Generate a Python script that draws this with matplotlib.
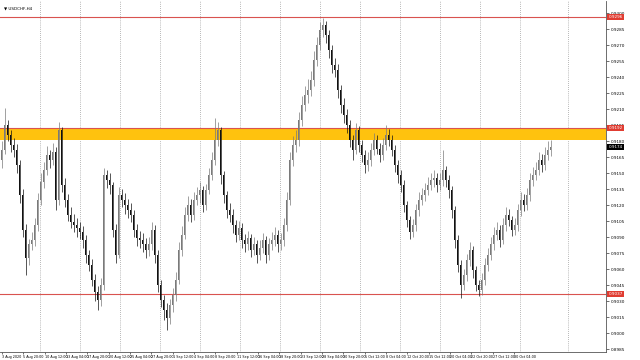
import matplotlib
matplotlib.use("Agg")
import matplotlib.pyplot as plt

# USDCHF H4 candles (closes, highs, lows)
first_open = 0.9162
closes = [
    0.9172, 0.9195, 0.9186, 0.9176, 0.9172, 0.9158, 0.9129, 0.9097, 0.9070, 0.9083,
    0.9087, 0.9101, 0.9125, 0.9142, 0.9153, 0.9167, 0.9162, 0.9170, 0.9125, 0.9190,
    0.9139, 0.9125, 0.9111, 0.9104, 0.9101, 0.9098, 0.9095, 0.9087, 0.9073, 0.9064,
    0.9050, 0.9038, 0.9031, 0.9045, 0.9148, 0.9143, 0.9139, 0.9097, 0.9073, 0.9129,
    0.9125, 0.9120, 0.9115, 0.9111, 0.9097, 0.9089, 0.9087, 0.9083, 0.9078, 0.9083,
    0.9097, 0.9073, 0.9045, 0.9031, 0.9022, 0.9014, 0.9026, 0.9036, 0.9050, 0.9078,
    0.9092, 0.9111, 0.9120, 0.9111, 0.9125, 0.9129, 0.9134, 0.9120, 0.9134, 0.9148,
    0.9162, 0.9181, 0.9190, 0.9148, 0.9129, 0.9115, 0.9111, 0.9101, 0.9092, 0.9098,
    0.9087, 0.9083, 0.9089, 0.9078, 0.9083, 0.9073, 0.9080, 0.9087, 0.9073, 0.9083,
    0.9087, 0.9092, 0.9083, 0.9087, 0.9101, 0.9125, 0.9162, 0.9176, 0.9181, 0.9200,
    0.9214, 0.9223, 0.9228, 0.9237, 0.9256, 0.9270, 0.9284, 0.9289, 0.9279, 0.9265,
    0.9251, 0.9247, 0.9228, 0.9214, 0.9204, 0.9195, 0.9181, 0.9172, 0.9190, 0.9176,
    0.9167, 0.9158, 0.9162, 0.9172, 0.9181, 0.9173, 0.9167, 0.9176, 0.9186, 0.9181,
    0.9172, 0.9158, 0.9148, 0.9139, 0.9120, 0.9106, 0.9095, 0.9101, 0.9115, 0.9125,
    0.9129, 0.9134, 0.9139, 0.9143, 0.9145, 0.9139, 0.9143, 0.9153, 0.9143, 0.9134,
    0.9115, 0.9087, 0.9064, 0.9045, 0.9054, 0.9068, 0.9078, 0.9059, 0.9045, 0.9040,
    0.9050, 0.9064, 0.9073, 0.9083, 0.9092, 0.9097, 0.9087, 0.9101, 0.9111, 0.9106,
    0.9097, 0.9101, 0.9115, 0.9125, 0.9120, 0.9129, 0.9143, 0.9148, 0.9153, 0.9162,
    0.9158, 0.9167, 0.9172, 0.9174,
]
highs = [
    0.9180, 0.9211, 0.9200, 0.9190, 0.9183, 0.9177, 0.9162, 0.9135, 0.9102, 0.9088,
    0.9095, 0.9108, 0.9131, 0.9150, 0.9160, 0.9175, 0.9172, 0.9178, 0.9174, 0.9198,
    0.9193, 0.9145, 0.9130, 0.9118, 0.9112, 0.9108, 0.9104, 0.9100, 0.9092, 0.9078,
    0.9069, 0.9055, 0.9044, 0.9052, 0.9155, 0.9153, 0.9150, 0.9142, 0.9102, 0.9137,
    0.9135, 0.9131, 0.9126, 0.9122, 0.9115, 0.9102, 0.9096, 0.9094, 0.9089, 0.9090,
    0.9104, 0.9101, 0.9078, 0.9050, 0.9036, 0.9028, 0.9032, 0.9042, 0.9057, 0.9085,
    0.9100, 0.9118, 0.9128, 0.9126, 0.9132, 0.9137, 0.9142, 0.9138, 0.9140, 0.9155,
    0.9170, 0.9202, 0.9198, 0.9193, 0.9152, 0.9133, 0.9122, 0.9116, 0.9106, 0.9105,
    0.9103, 0.9093, 0.9096, 0.9093, 0.9090, 0.9087, 0.9087, 0.9094, 0.9091, 0.9089,
    0.9095, 0.9099, 0.9097, 0.9094, 0.9108, 0.9132, 0.9170, 0.9185, 0.9190, 0.9207,
    0.9222, 0.9232, 0.9238, 0.9246, 0.9264, 0.9278, 0.9292, 0.9295, 0.9293, 0.9284,
    0.9270, 0.9258, 0.9252, 0.9233, 0.9220, 0.9210, 0.9200, 0.9186, 0.9197, 0.9194,
    0.9181, 0.9172, 0.9170, 0.9178, 0.9188, 0.9186, 0.9178, 0.9183, 0.9195, 0.9191,
    0.9186, 0.9176, 0.9162, 0.9153, 0.9143, 0.9124, 0.9110, 0.9107, 0.9121, 0.9132,
    0.9136, 0.9141, 0.9146, 0.9150, 0.9153, 0.9150, 0.9150, 0.9172, 0.9157, 0.9148,
    0.9138, 0.9119, 0.9092, 0.9068, 0.9060, 0.9074, 0.9085, 0.9082, 0.9063, 0.9050,
    0.9056, 0.9070, 0.9080, 0.9090, 0.9099, 0.9104, 0.9101, 0.9108, 0.9118, 0.9116,
    0.9110, 0.9108, 0.9121, 0.9132, 0.9130, 0.9136, 0.9150, 0.9156, 0.9160, 0.9170,
    0.9168, 0.9174, 0.9180, 0.9181,
]
lows = [
    0.9155, 0.9168, 0.9180, 0.9170, 0.9165, 0.9150, 0.9122, 0.9090, 0.9054, 0.9064,
    0.9078, 0.9082, 0.9096, 0.9120, 0.9136, 0.9148, 0.9155, 0.9158, 0.9115, 0.9120,
    0.9132, 0.9118, 0.9105, 0.9098, 0.9095, 0.9090, 0.9088, 0.9080, 0.9066, 0.9058,
    0.9044, 0.9030, 0.9022, 0.9025, 0.9040, 0.9136, 0.9130, 0.9090, 0.9066, 0.9070,
    0.9118, 0.9112, 0.9108, 0.9104, 0.9090, 0.9082, 0.9080, 0.9076, 0.9070, 0.9072,
    0.9078, 0.9066, 0.9038, 0.9024, 0.9012, 0.9003, 0.9008, 0.9020, 0.9030, 0.9046,
    0.9072, 0.9088, 0.9105, 0.9104, 0.9106, 0.9120, 0.9122, 0.9113, 0.9115, 0.9130,
    0.9143, 0.9158, 0.9175, 0.9140, 0.9122, 0.9108, 0.9104, 0.9094, 0.9085, 0.9087,
    0.9080, 0.9076, 0.9078, 0.9071, 0.9073, 0.9066, 0.9068, 0.9075, 0.9066, 0.9068,
    0.9078, 0.9082, 0.9076, 0.9078, 0.9082, 0.9096, 0.9120, 0.9157, 0.9170, 0.9175,
    0.9194, 0.9208, 0.9216, 0.9222, 0.9232, 0.9250, 0.9265, 0.9278, 0.9272, 0.9258,
    0.9244, 0.9240, 0.9220, 0.9206, 0.9197, 0.9188, 0.9174, 0.9162, 0.9168, 0.9170,
    0.9160, 0.9150, 0.9152, 0.9157, 0.9167, 0.9168, 0.9160, 0.9162, 0.9172, 0.9175,
    0.9166, 0.9151, 0.9141, 0.9132, 0.9113, 0.9099, 0.9088, 0.9090, 0.9096, 0.9110,
    0.9120, 0.9124, 0.9129, 0.9134, 0.9137, 0.9132, 0.9134, 0.9138, 0.9137, 0.9127,
    0.9108, 0.9080, 0.9057, 0.9033, 0.9040, 0.9049, 0.9063, 0.9052, 0.9039, 0.9035,
    0.9036, 0.9045, 0.9058, 0.9068, 0.9078, 0.9087, 0.9081, 0.9083, 0.9096, 0.9100,
    0.9091, 0.9092, 0.9096, 0.9110, 0.9114, 0.9115, 0.9124, 0.9138, 0.9143, 0.9148,
    0.9151, 0.9153, 0.9162, 0.9166,
]

resistance = 0.9296
zone_top, zone_bottom = 0.9192, 0.9181
support = 0.9037
last_price = 0.9174

price_ticks = [0.9300, 0.9285, 0.9270, 0.9255, 0.9240, 0.9225, 0.9210, 0.9195,
               0.9180, 0.9165, 0.9150, 0.9135, 0.9120, 0.9105, 0.9090, 0.9075,
               0.9060, 0.9045, 0.9030, 0.9015, 0.9000, 0.8985]
date_labels = ["3 Aug 2020", "5 Aug 20:00", "10 Aug 12:00", "13 Aug 04:00",
               "17 Aug 20:00", "20 Aug 12:00", "25 Aug 04:00", "27 Aug 20:00",
               "1 Sep 12:00", "4 Sep 04:00", "8 Sep 20:00", "11 Sep 12:00",
               "16 Sep 04:00", "18 Sep 20:00", "23 Sep 12:00", "28 Sep 04:00",
               "30 Sep 20:00", "5 Oct 12:00", "8 Oct 04:00", "12 Oct 20:00",
               "15 Oct 12:00", "20 Oct 04:00", "22 Oct 20:00", "27 Oct 12:00",
               "30 Oct 04:00"]

narrow = ["Liberation Sans Narrow", "DejaVu Sans"]

fig = plt.figure(figsize=(6.4, 3.6), dpi=100)
ax = fig.add_axes([0, 8 / 360, 606 / 640, 351 / 360])

opens = [first_open] + closes[:-1]
for i in range(len(closes)):
    o, c = opens[i], closes[i]
    col = "#7a7a7a" if c >= o else "#111111"
    ax.vlines(i, lows[i], highs[i], color=col, lw=0.5, zorder=3)
    ax.bar(i, max(abs(c - o), 0.00006), bottom=min(o, c), width=0.55,
           color=col, lw=0, zorder=3)

# levels
ax.axhspan(zone_bottom, zone_top, color="#ffc20e", lw=0, zorder=1)
ax.axhline(zone_top, color="#d9534f", lw=0.8, zorder=2)
ax.axhline(resistance, color="#d9534f", lw=0.8, zorder=2)
ax.axhline(support, color="#d9534f", lw=0.8, zorder=2)

# dotted vertical grid (every 40 px)
grid_px = [40 * k for k in range(1, 14)] + [568]
for px in grid_px:
    ax.axvline((px - 1.5) / 3, color="#777777", lw=0.5, ls=(0, (1, 2)), zorder=0)

ax.set_xlim(-0.5, 201.5)
ax.set_ylim(0.89822, 0.93113)

ax.yaxis.tick_right()
ax.set_yticks(price_ticks)
ax.set_yticklabels(["%.4f" % p for p in price_ticks])
ax.tick_params(axis="y", labelsize=3, length=2, width=0.4, pad=1.5, colors="black")

tick_pos = [(2 + k * 64 / 3 - 1.5) / 3 for k in range(len(date_labels))]
ax.set_xticks(tick_pos)
ax.set_xticklabels(date_labels, ha="left", family=narrow)
ax.tick_params(axis="x", labelsize=2.4, length=1.5, width=0.4, pad=1)

for s in ["top", "left"]:
    ax.spines[s].set_visible(False)
ax.spines["right"].set_linewidth(0.6)
ax.spines["bottom"].set_linewidth(0.6)
ax.spines["right"].set_color("#555555")
ax.spines["bottom"].set_color("#555555")

# price tags on right axis
tr = ax.get_yaxis_transform()
for p, bg in [(resistance, "#e03c31"), (zone_top, "#e03c31"),
              (support, "#e03c31"), (last_price, "#000000")]:
    ax.text(1.004, p, "%.4f" % p, transform=tr, fontsize=3, color="white",
            va="center", ha="left", clip_on=False,
            bbox=dict(boxstyle="square,pad=0.25", fc=bg, ec="none"))

ax.text(0.006, 0.985, "\u25bc USDCHF,H4", transform=ax.transAxes, fontsize=3,
        va="top", ha="left", color="black")

fig.savefig("out.png", dpi=100)
